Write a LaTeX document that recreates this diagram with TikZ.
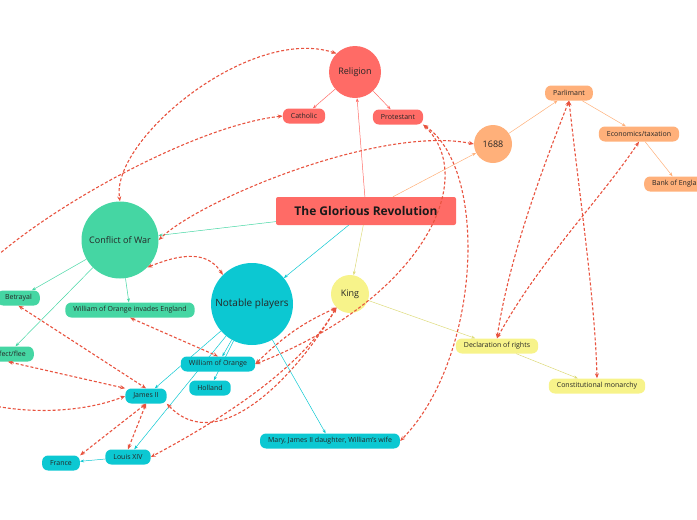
\documentclass[tikz,border=0pt]{standalone}
\usepackage{fontspec}
\setmainfont{Open Sans}
\usetikzlibrary{arrows.meta}
\definecolor{cR}{HTML}{FF6B66}
\definecolor{cO}{HTML}{FFB07A}
\definecolor{cG}{HTML}{45D6A3}
\definecolor{cC}{HTML}{0CC8D2}
\definecolor{cY}{HTML}{F7F38A}
\definecolor{cD}{HTML}{E8533F}
\begin{document}
\begin{tikzpicture}[x=1pt,y=-1pt,
 pill/.style={rounded corners=6pt,minimum height=15pt,inner xsep=8pt,font=\fontsize{7}{8}\selectfont,text=black!85},
 circ/.style={circle,inner sep=0pt,font=\fontsize{9}{10}\selectfont,text=black!85},
 sol/.style={-{Stealth[length=4pt,width=3pt]},line width=0.5pt},
 dl/.style={{Stealth[length=5pt,width=4pt]}-{Stealth[length=5pt,width=4pt]},cD,dashed,dash pattern=on 3pt off 2pt,line width=1.1pt}]
\useasboundingbox (0,0) rectangle (697,520);
\begin{scope}
\clip (0,0) rectangle (697,520);
\node[fill=cR,rounded corners=2pt,minimum width=180pt,minimum height=28pt,font=\fontsize{12}{13}\selectfont\bfseries,text=black!90] (main) at (366,211) {The Glorious Revolution};
\node[circ,fill=cR,minimum size=52pt] (rel) at (355,72) {Religion};
\node[pill,fill=cR] (cat) at (304,116) {Catholic};
\node[pill,fill=cR] (pro) at (398,117) {Protestant};
\node[circ,fill=cO,minimum size=38pt] (y88) at (493,144) {1688};
\node[pill,fill=cO] (par) at (569,93) {Parlimant};
\node[pill,fill=cO] (eco) at (639,134) {Economics/taxation};
\node[pill,fill=cO,anchor=west] (bank) at (644,184) {Bank of England};
\node[circ,fill=cG,minimum size=77pt] (war) at (120,240) {Conflict of War};
\node[pill,fill=cG,anchor=east] (bet) at (40,298) {Betrayal};
\node[pill,fill=cG,anchor=east] (fle) at (34,354) {Defect/flee};
\node[pill,fill=cG] (inv) at (130,310) {William of Orange invades England};
\node[circ,fill=cC,minimum size=82pt,font=\fontsize{10}{11}\selectfont] (np) at (252,304) {Notable players};
\node[pill,fill=cC] (woo) at (218,364) {William of Orange};
\node[pill,fill=cC] (hol) at (210,388) {Holland};
\node[pill,fill=cC] (j2) at (146,396) {James II};
\node[pill,fill=cC] (lx) at (128,457) {Louis XIV};
\node[pill,fill=cC] (fr) at (61,463) {France};
\node[pill,fill=cC] (mary) at (330,441) {Mary, James II daughter, William's wife};
\node[circ,fill=cY,minimum size=38pt] (king) at (350,294) {King};
\node[pill,fill=cY] (dec) at (497,346) {Declaration of rights};
\node[pill,fill=cY] (con) at (597,386) {Constitutional monarchy};
\coordinate (offA) at (-10,262);
\coordinate (offB) at (-10,405);
% solid edges
\draw[sol,cR] (main) -- (rel);
\draw[sol,cR] (rel) -- (cat);
\draw[sol,cR] (rel) -- (pro);
\draw[sol,cO] (main) -- (y88);
\draw[sol,cO] (y88) -- (par);
\draw[sol,cO] (par) -- (eco);
\draw[sol,cO] (eco) -- (bank);
\draw[sol,cG] (main) -- (war);
\draw[sol,cG] (war) -- (bet);
\draw[sol,cG] (war) -- (fle);
\draw[sol,cG] (war) -- (inv);
\draw[sol,cC] (main) -- (np);
\draw[sol,cC] (np) -- (woo);
\draw[sol,cC] (np) -- (hol);
\draw[sol,cC] (np) -- (j2);
\draw[sol,cC] (np) -- (lx);
\draw[sol,cC] (np) -- (mary);
\draw[sol,cC] (lx) -- (fr);
\draw[sol,cY!90!black] (main) -- (king);
\draw[sol,cY!90!black] (king) -- (dec);
\draw[sol,cY!90!black] (dec) -- (con);
% dashed relations
\draw[dl] (rel.north west) .. controls (250,25) and (110,140) .. (war.north);
\draw[dl] (cat.west) .. controls (200,125) and (60,200) .. (offA);
\draw[dl] (y88.west) .. controls (380,125) and (200,200) .. (war.east);
\draw[dl] (pro.south east) .. controls (490,170) and (480,360) .. (mary.east);
\draw[dl] (pro.south east) .. controls (480,180) and (420,300) .. (woo.east);
\draw[dl] (war.south east) .. controls (190,250) and (210,255) .. (np.north west);
\draw[dl] (king.south west) .. controls (310,320) and (290,330) .. (woo.east);
\draw[dl] (king.south west) .. controls (300,370) and (220,460) .. (j2.south east);
\draw[dl] (king.south west) .. controls (300,370) and (220,420) .. (lx.east);
\draw[dl] (inv.south) -- (woo.north);
\draw[dl] (bet.south) -- (j2.north);
\draw[dl] (fle.south) -- (j2.north west);
\draw[dl] (offB) .. controls (40,415) and (90,410) .. (j2.west);
\draw[dl] (j2.south) -- (fr.north east);
\draw[dl] (j2.south) -- (lx.north);
\draw[dl] (dec.north) .. controls (510,250) and (550,150) .. (par.south);
\draw[dl] (dec.north) .. controls (540,260) and (600,200) .. (eco.south);
\draw[dl] (par.south) .. controls (580,200) and (595,300) .. (con.north);
\end{scope}
\end{tikzpicture}
\end{document}
